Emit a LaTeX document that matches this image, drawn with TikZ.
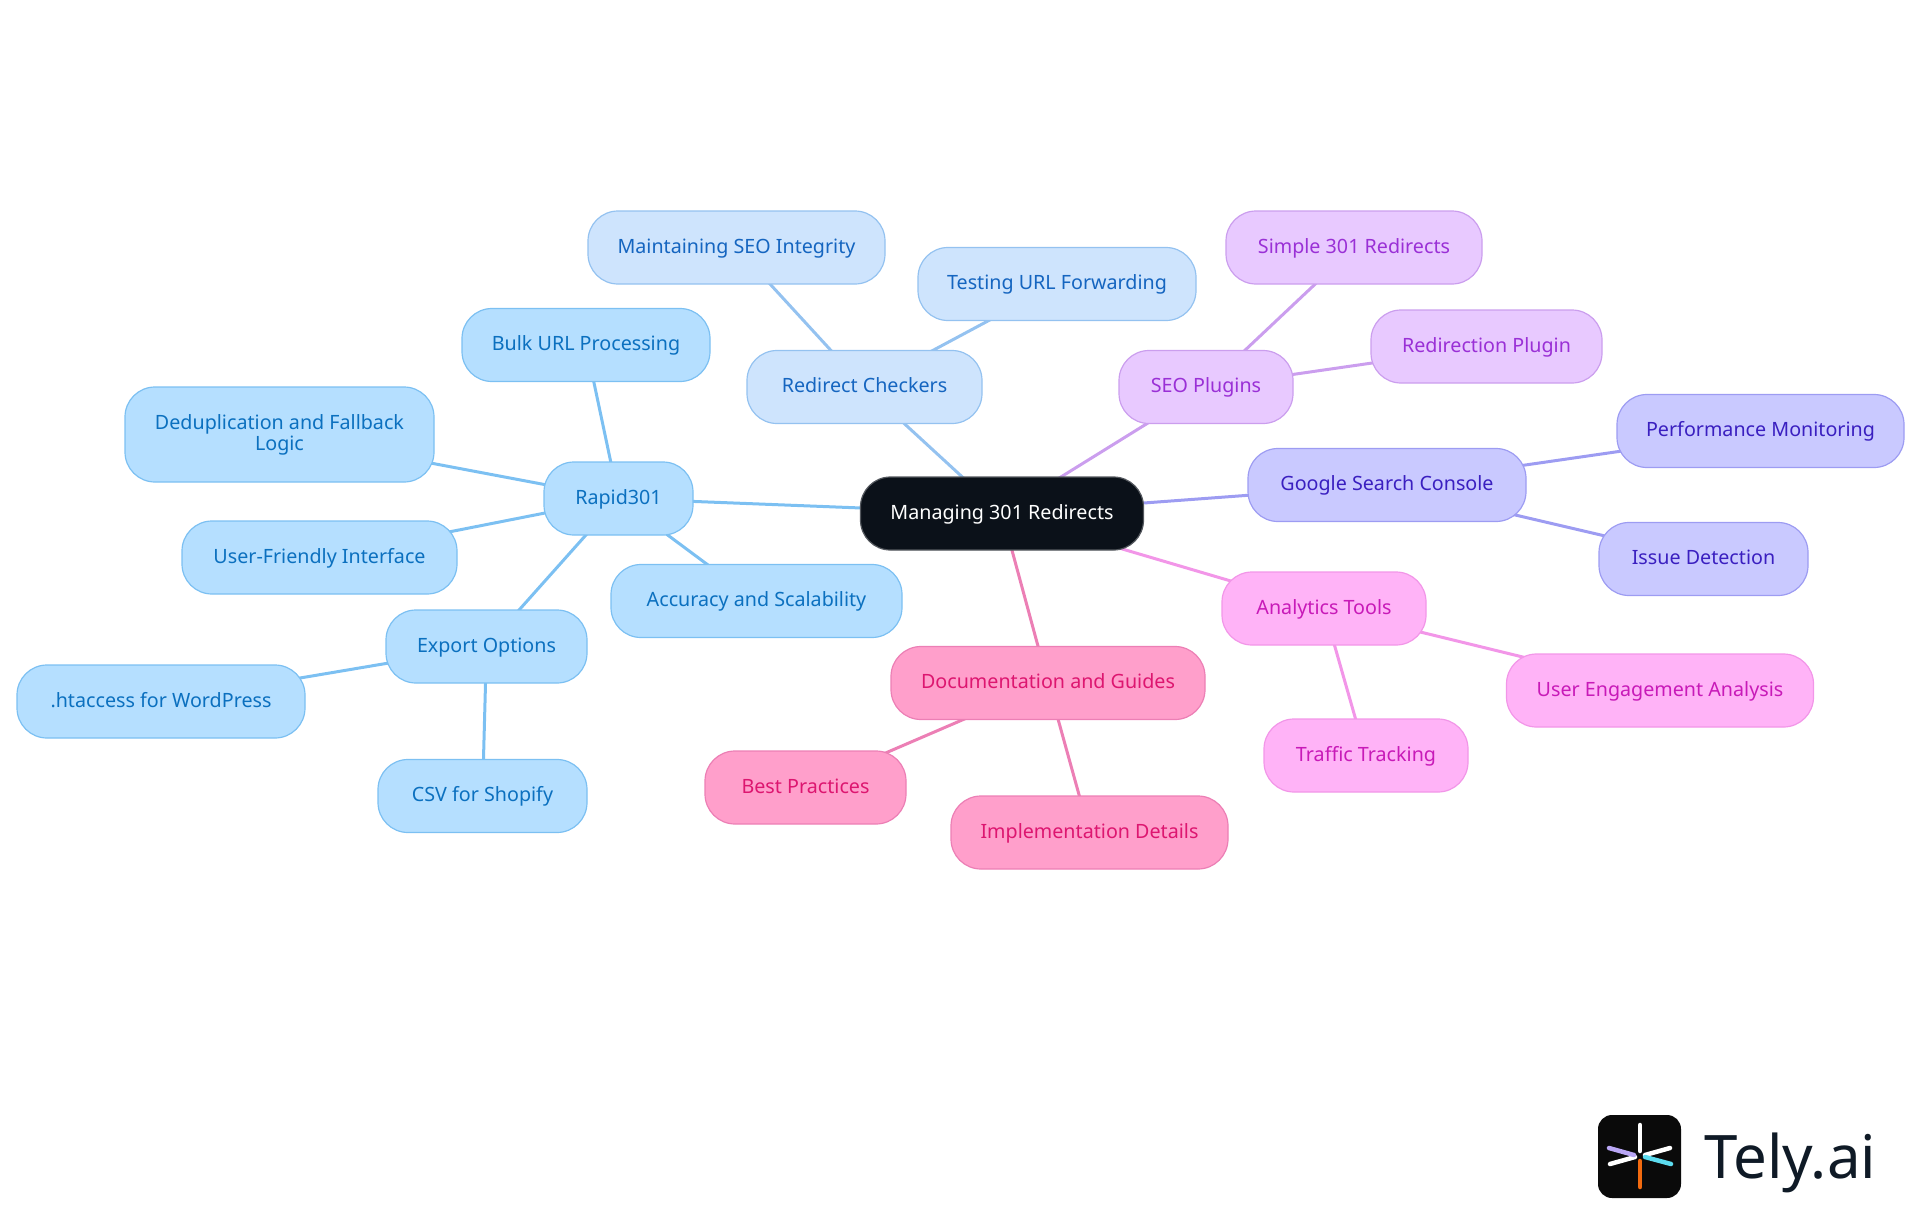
\documentclass[tikz,border=0pt]{standalone}
\usepackage{fontspec}
\setmainfont{Noto Sans}
\usetikzlibrary{calc,positioning,backgrounds}
\definecolor{rootfill}{HTML}{0B1119}
\definecolor{rapidfill}{HTML}{B5DFFF}
\definecolor{rapidline}{HTML}{7CC0F2}
\definecolor{rapidtext}{HTML}{0B70BF}
\definecolor{checkfill}{HTML}{CEE4FD}
\definecolor{checkline}{HTML}{94C2F0}
\definecolor{checktext}{HTML}{1565C0}
\definecolor{seofill}{HTML}{E8C9FF}
\definecolor{seoline}{HTML}{CB9EEE}
\definecolor{seotext}{HTML}{9A30D6}
\definecolor{gscfill}{HTML}{C9C9FF}
\definecolor{gscline}{HTML}{9D9CF2}
\definecolor{gsctext}{HTML}{3A1FC0}
\definecolor{statsfill}{HTML}{FFB3F7}
\definecolor{statsline}{HTML}{F296E8}
\definecolor{statstext}{HTML}{C81AB8}
\definecolor{docsfill}{HTML}{FF9FCB}
\definecolor{docsline}{HTML}{EC7FB5}
\definecolor{docstext}{HTML}{DD1670}
\definecolor{logotext}{HTML}{0F1A26}
\definecolor{logofill}{HTML}{0A0A0A}
\definecolor{logolilac}{HTML}{B9A6F5}
\definecolor{logocyan}{HTML}{5CDCEF}
\definecolor{logoorange}{HTML}{F26A0F}
\tikzset{
  pill/.style={rectangle, draw, rounded corners=30pt, line width=1.2pt, minimum height=73pt, inner sep=0pt, align=center, text height=15pt, text depth=4pt, font=\fontsize{19.7}{21}\selectfont},
  rootbox/.style={pill, fill=rootfill, draw=rootfill!70!white, text=white},
  rapidbox/.style={pill, fill=rapidfill, draw=rapidline, text=rapidtext},
  checkbox/.style={pill, fill=checkfill, draw=checkline, text=checktext},
  seobox/.style={pill, fill=seofill, draw=seoline, text=seotext},
  gscbox/.style={pill, fill=gscfill, draw=gscline, text=gsctext},
  statsbox/.style={pill, fill=statsfill, draw=statsline, text=statstext},
  docsbox/.style={pill, fill=docsfill, draw=docsline, text=docstext},
  link/.style={line width=3pt},
  spoke/.style={line width=4.5pt, line cap=round}
}
\begin{document}
\begin{tikzpicture}[on grid]
\useasboundingbox (0pt,0pt) rectangle (1920pt,-1215pt);
\node [rootbox, minimum width=283pt] (root) at (1002pt,-513.5pt) {Managing 301 Redirects};
\node [rapidbox, minimum width=149pt, above left=15pt and 383.5pt of root] (rapid) {Rapid301};
\node [rapidbox, minimum width=248pt, above left=153.5pt and 32.5pt of rapid] (bulk) {Bulk URL Processing};
\node [rapidbox, text height=, text depth=, minimum width=309pt, minimum height=95pt, above left=64pt and 339pt of rapid] (dedup) {Deduplication and Fallback\\Logic};
\node [rapidbox, minimum width=275pt, below left=59pt and 299pt of rapid] (friendly) {User-Friendly Interface};
\node [rapidbox, minimum width=291pt, below right=102.5pt and 138pt of rapid] (accuracy) {Accuracy and Scalability};
\node [rapidbox, minimum width=201pt, below left=148pt and 132pt of rapid] (export) {Export Options};
\node [rapidbox, minimum width=288pt, below left=55pt and 325.5pt of export] (htaccess) {.htaccess for WordPress};
\node [rapidbox, minimum width=209pt, below left=149.5pt and 4pt of export] (csv) {CSV for Shopify};
\node [checkbox, minimum width=235pt, above left=126.5pt and 137.5pt of root] (checkers) {Redirect Checkers};
\node [checkbox, minimum width=297pt, above left=139.5pt and 128pt of checkers] (integrity) {Maintaining SEO Integrity};
\node [checkbox, minimum width=278pt, above right=103pt and 192.5pt of checkers] (forwarding) {Testing URL Forwarding};
\node [seobox, minimum width=174pt, above right=126.5pt and 204pt of root] (plugins) {SEO Plugins};
\node [seobox, minimum width=256pt, above right=139.5pt and 148pt of plugins] (simple) {Simple 301 Redirects};
\node [seobox, minimum width=231pt, above right=40.5pt and 280.5pt of plugins] (redirection) {Redirection Plugin};
\node [gscbox, minimum width=278pt, above right=28.5pt and 385pt of root] (console) {Google Search Console};
\node [gscbox, minimum width=287pt, above right=54pt and 373.5pt of console] (monitoring) {Performance Monitoring};
\node [gscbox, minimum width=209pt, below right=74pt and 316.5pt of console] (issue) {Issue Detection};
\node [statsbox, minimum width=204pt, below right=95pt and 322pt of root] (analytics) {Analytics Tools};
\node [statsbox, minimum width=307pt, below right=82pt and 336pt of analytics] (engagement) {User Engagement Analysis};
\node [statsbox, minimum width=204pt, below right=147pt and 42pt of analytics] (traffic) {Traffic Tracking};
\node [docsbox, minimum width=314pt, below right=169.5pt and 46pt of root] (docs) {Documentation and Guides};
\node [docsbox, minimum width=201pt, below left=104.5pt and 242.5pt of docs] (practices) {Best Practices};
\node [docsbox, minimum width=277pt, below right=149.5pt and 41.5pt of docs] (details) {Implementation Details};
\begin{scope}[on background layer]
\draw [link, rapidline] (root.center) -- (rapid.center);
\draw [link, rapidline] (rapid.center) -- (bulk.center);
\draw [link, rapidline] (rapid.center) -- (dedup.center);
\draw [link, rapidline] (rapid.center) -- (friendly.center);
\draw [link, rapidline] (rapid.center) -- (accuracy.center);
\draw [link, rapidline] (rapid.center) -- (export.center);
\draw [link, rapidline] (export.center) -- (htaccess.center);
\draw [link, rapidline] (export.center) -- (csv.center);
\draw [link, checkline] (root.center) -- (checkers.center);
\draw [link, checkline] (checkers.center) -- (integrity.center);
\draw [link, checkline] (checkers.center) -- (forwarding.center);
\draw [link, seoline] (root.center) -- (plugins.center);
\draw [link, seoline] (plugins.center) -- (simple.center);
\draw [link, seoline] (plugins.center) -- (redirection.center);
\draw [link, gscline] (root.center) -- (console.center);
\draw [link, gscline] (console.center) -- (monitoring.center);
\draw [link, gscline] (console.center) -- (issue.center);
\draw [link, statsline] (root.center) -- (analytics.center);
\draw [link, statsline] (analytics.center) -- (engagement.center);
\draw [link, statsline] (analytics.center) -- (traffic.center);
\draw [link, docsline] (root.center) -- (docs.center);
\draw [link, docsline] (docs.center) -- (practices.center);
\draw [link, docsline] (docs.center) -- (details.center);
\end{scope}
% logo
\fill [logofill, rounded corners=14pt] (1598pt,-1115pt) rectangle (1681pt,-1198pt);
\draw [spoke, white] (1640pt,-1125pt) -- (1640pt,-1151pt);
\draw [spoke, white] (1610pt,-1164pt) -- (1635pt,-1157pt);
\draw [spoke, white] (1645pt,-1155pt) -- (1670pt,-1148pt);
\draw [spoke, logolilac] (1609pt,-1148pt) -- (1634pt,-1155pt);
\draw [spoke, logocyan] (1645pt,-1157pt) -- (1671pt,-1164pt);
\draw [spoke, logoorange] (1640pt,-1161pt) -- (1640pt,-1187pt);
\node [anchor=base west, text=logotext, font=\fontsize{60}{60}\selectfont, inner sep=0pt] (brand) at (1704pt,-1178pt) {Tely.ai};
\end{tikzpicture}
\end{document}
